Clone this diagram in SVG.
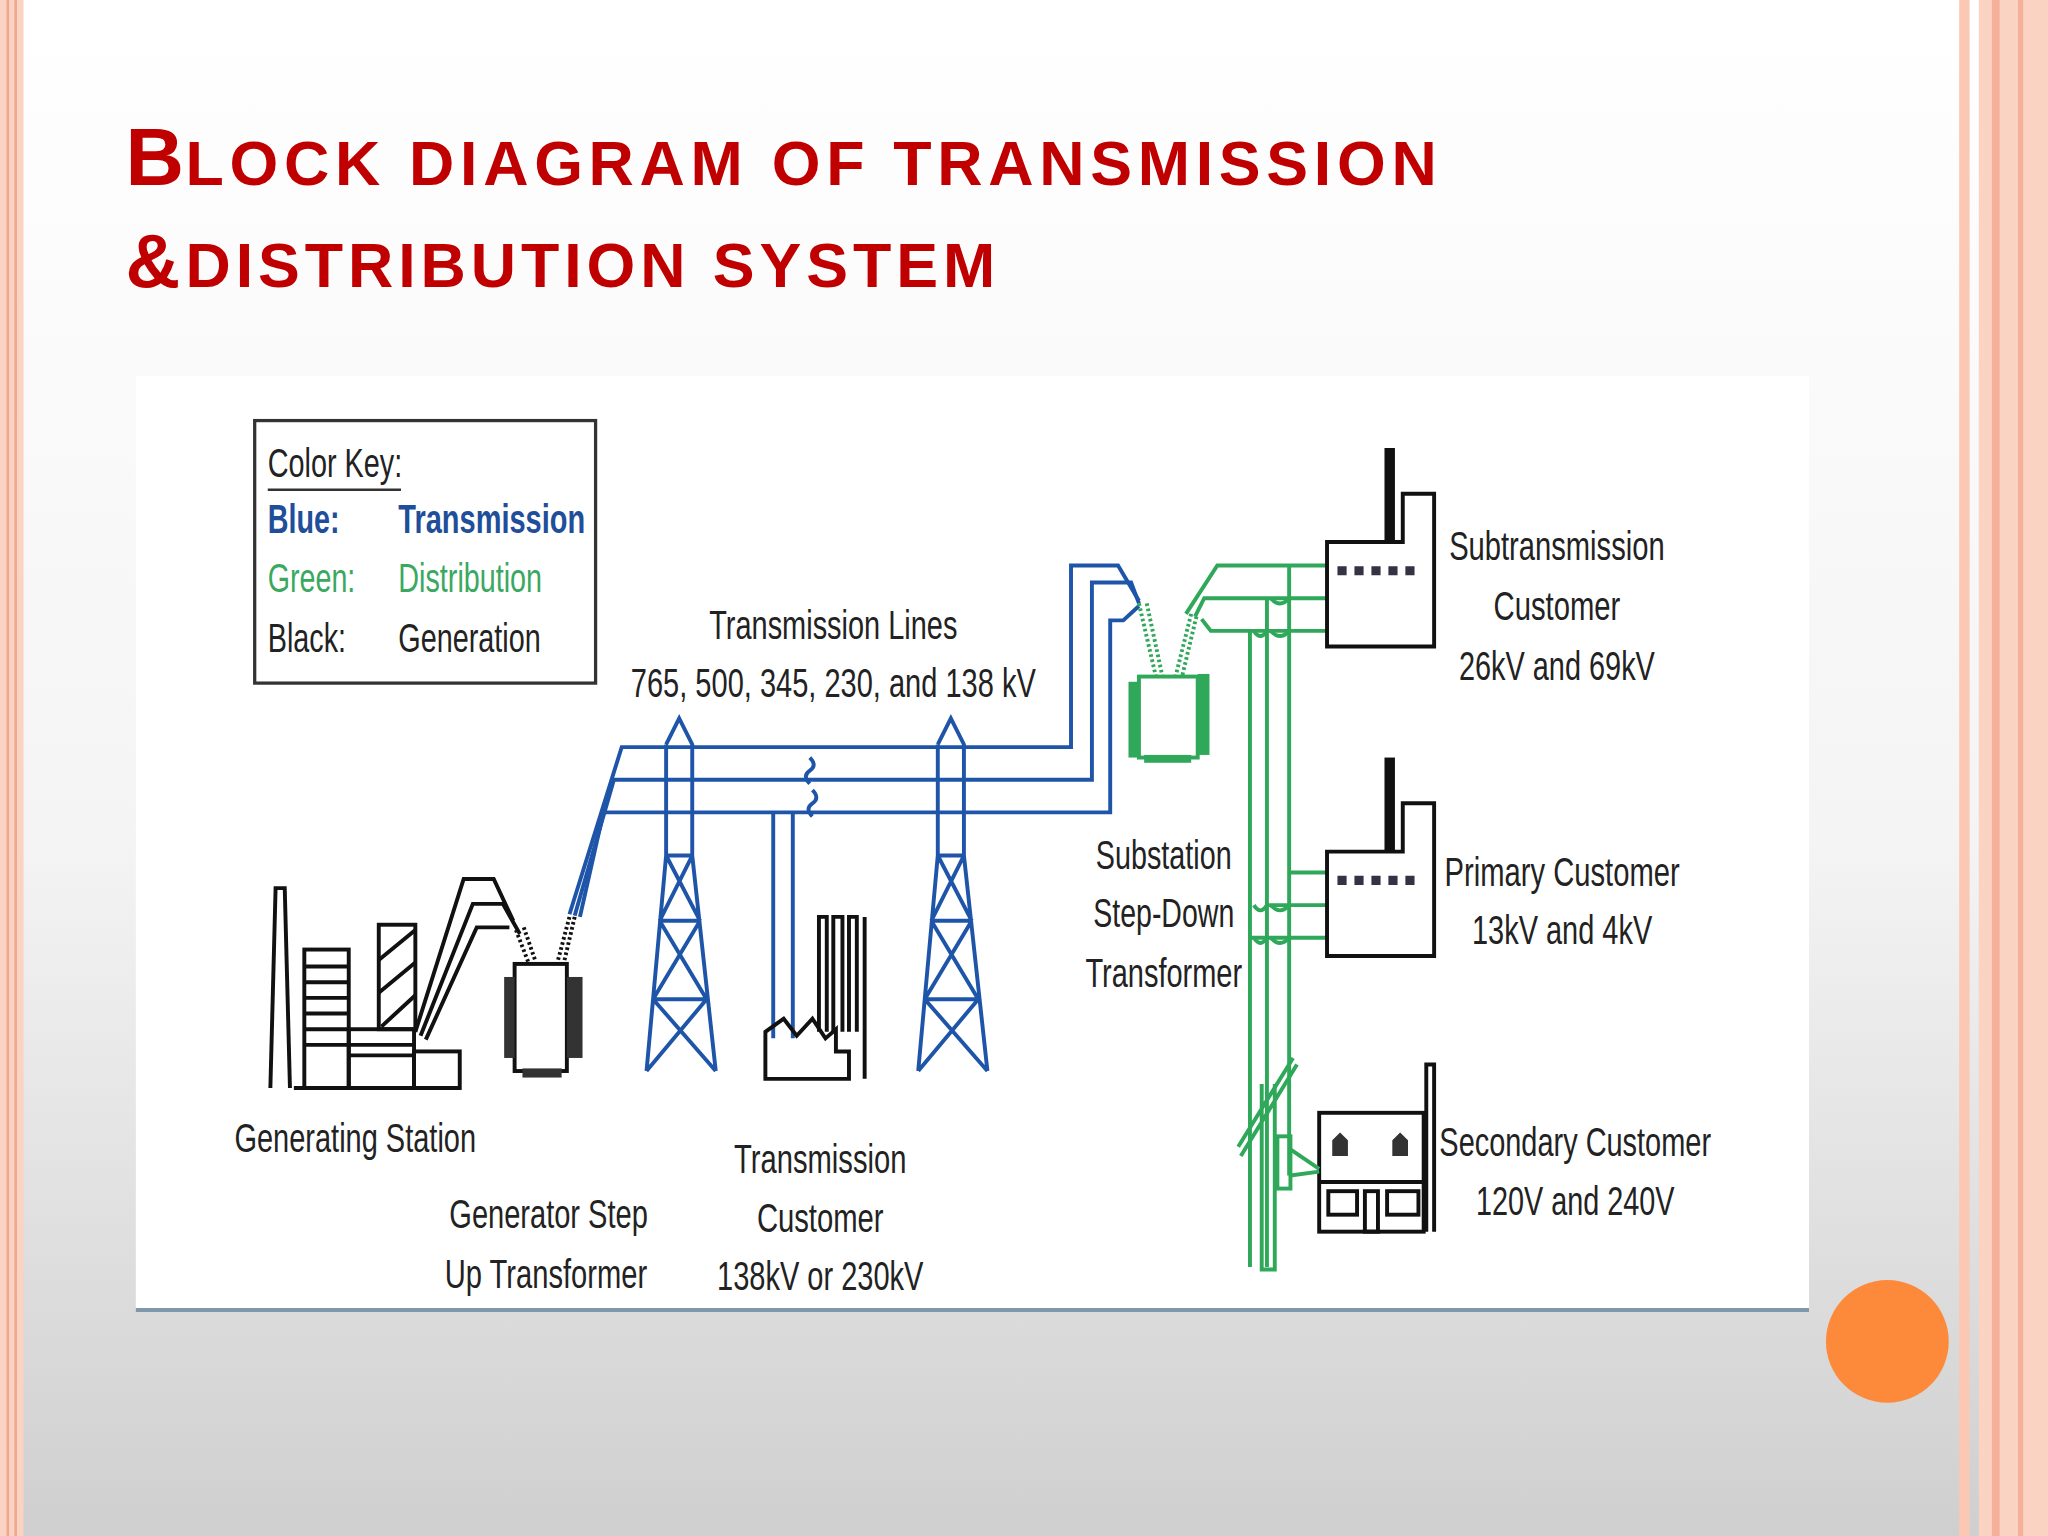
<svg xmlns="http://www.w3.org/2000/svg" width="2048" height="1536" viewBox="0 0 2048 1536">
<defs>
<linearGradient id="bg" x1="0" y1="0" x2="0" y2="1"><stop offset="0" stop-color="#ffffff"/><stop offset="0.55" stop-color="#f4f4f4"/><stop offset="1" stop-color="#cfcfcf"/></linearGradient>
<style>
.t{font-family:"Liberation Sans",Arial,sans-serif;font-size:31px;fill:#222}
.c{text-anchor:middle}
.ttl{font-family:"Liberation Sans",Arial,sans-serif;font-weight:bold;fill:#c00000}
.b{fill:none;stroke:#1f55a8;stroke-width:3}
.g{fill:none;stroke:#2fa85a;stroke-width:3}
.k{fill:none;stroke:#111;stroke-width:3}
</style>
</defs>
<g transform="scale(1.30612)">
<rect width="1568" height="1176" fill="url(#bg)"/>
<rect x="0" y="0" width="18" height="1176" fill="#fbd3c3"/>
<line x1="6" y1="0" x2="6" y2="1176" stroke="#f0a890" stroke-width="2"/>
<line x1="12" y1="0" x2="12" y2="1176" stroke="#f0a890" stroke-width="2"/>
<rect x="1500" y="0" width="8" height="1176" fill="#fbc8b3"/>
<rect x="1515" y="0" width="53" height="1176" fill="#fbd3c3"/>
<rect x="1525" y="0" width="6" height="1176" fill="#f5b09a"/>
<rect x="1545" y="0" width="4" height="1176" fill="#f5b09a"/>
<g id="title">
<text class="ttl" x="96" y="142"><tspan font-size="62">B</tspan><tspan font-size="48" x="142" textLength="958" lengthAdjust="spacing">LOCK  DIAGRAM  OF TRANSMISSION</tspan></text>
<text class="ttl" x="96" y="220"><tspan font-size="58">&amp;</tspan><tspan font-size="48" x="142" textLength="620" lengthAdjust="spacing">DISTRIBUTION  SYSTEM</tspan></text>
</g>
<rect x="104" y="288" width="1281" height="715" fill="#ffffff"/>
<line x1="104" y1="1003" x2="1385" y2="1003" stroke="#7f97aa" stroke-width="3"/>
<circle cx="1445" cy="1027" r="47" fill="#fd8a3a"/>

<g id="key">
<rect x="195" y="322" width="261" height="201" fill="none" stroke="#333" stroke-width="2.5"/>
<text class="t" x="205" y="365" textLength="103" lengthAdjust="spacingAndGlyphs">Color Key:</text>
<line x1="205" y1="375" x2="307" y2="375" stroke="#333" stroke-width="2"/>
<text class="t" x="205" y="408" style="fill:#1f4e9a;font-weight:bold" textLength="55" lengthAdjust="spacingAndGlyphs">Blue:</text>
<text class="t" x="305" y="408" style="fill:#1f4e9a;font-weight:bold" textLength="143" lengthAdjust="spacingAndGlyphs">Transmission</text>
<text class="t" x="205" y="453" style="fill:#3aa860" textLength="67" lengthAdjust="spacingAndGlyphs">Green:</text>
<text class="t" x="305" y="453" style="fill:#3aa860" textLength="110" lengthAdjust="spacingAndGlyphs">Distribution</text>
<text class="t" x="205" y="499" textLength="60" lengthAdjust="spacingAndGlyphs">Black:</text>
<text class="t" x="305" y="499" textLength="109" lengthAdjust="spacingAndGlyphs">Generation</text>
</g>

<g id="labels">
<text class="t c" x="638" y="489" textLength="190" lengthAdjust="spacingAndGlyphs">Transmission Lines</text>
<text class="t c" x="638" y="534" textLength="310" lengthAdjust="spacingAndGlyphs">765, 500, 345, 230, and 138 kV</text>
<text class="t c" x="891" y="665" textLength="104" lengthAdjust="spacingAndGlyphs">Substation</text>
<text class="t c" x="891" y="710" textLength="108" lengthAdjust="spacingAndGlyphs">Step-Down</text>
<text class="t c" x="891" y="756" textLength="120" lengthAdjust="spacingAndGlyphs">Transformer</text>
<text class="t c" x="1192" y="429" textLength="165" lengthAdjust="spacingAndGlyphs">Subtransmission</text>
<text class="t c" x="1192" y="475" textLength="97" lengthAdjust="spacingAndGlyphs">Customer</text>
<text class="t c" x="1192" y="521" textLength="150" lengthAdjust="spacingAndGlyphs">26kV and 69kV</text>
<text class="t c" x="1196" y="678" textLength="180" lengthAdjust="spacingAndGlyphs">Primary Customer</text>
<text class="t c" x="1196" y="723" textLength="138" lengthAdjust="spacingAndGlyphs">13kV and 4kV</text>
<text class="t c" x="1206" y="885" textLength="208" lengthAdjust="spacingAndGlyphs">Secondary Customer</text>
<text class="t c" x="1206" y="930" textLength="152" lengthAdjust="spacingAndGlyphs">120V and 240V</text>
<text class="t c" x="272" y="882" textLength="185" lengthAdjust="spacingAndGlyphs">Generating Station</text>
<text class="t c" x="420" y="940" textLength="152" lengthAdjust="spacingAndGlyphs">Generator Step</text>
<text class="t c" x="418" y="986" textLength="155" lengthAdjust="spacingAndGlyphs">Up Transformer</text>
<text class="t c" x="628" y="898" textLength="132" lengthAdjust="spacingAndGlyphs">Transmission</text>
<text class="t c" x="628" y="943" textLength="97" lengthAdjust="spacingAndGlyphs">Customer</text>
<text class="t c" x="628" y="988" textLength="158" lengthAdjust="spacingAndGlyphs">138kV or 230kV</text>
</g>

<g id="generating-station">
<path class="k" d="M207,833 L211,680 L218,680 L222,833"/>
<rect x="233" y="727" width="34" height="106" class="k"/>
<path class="k" d="M233,740 H267 M233,752 H267 M233,764 H267 M233,776 H267 M233,788 H267 M233,800 H267"/>
<rect x="290" y="708" width="28" height="80" class="k"/>
<path class="k" d="M290,735 L318,712 M290,760 L318,737 M292,786 L318,762"/>
<rect x="267" y="788" width="50" height="45" class="k"/>
<path class="k" d="M267,800 H317 M267,808 H317"/>
<rect x="317" y="805" width="35" height="28" class="k"/>
<path class="k" d="M225,833 H352"/>
<path class="k" d="M318,790 L355,673 L378,673 L393,705 M322,793 L362,692 L385,692 L398,715 M326,796 L365,710 L390,710"/>
</g>
<g id="stepup-transformer">
<rect x="394" y="738" width="40" height="82" class="k"/>
<rect x="386" y="748" width="8" height="62" fill="#333"/>
<rect x="434" y="748" width="12" height="62" fill="#333"/>
<rect x="400" y="818" width="30" height="7" fill="#333"/>
<path class="k" d="M395,712 L405,738 M401,710 L410,736 M440,702 L432,736 M436,702 L427,736" stroke-dasharray="2 2"/>
</g>

<g id="connectors">
<path class="b" d="M436,700 L476,572 H820 V433 H856 L872,460"/>
<path class="b" d="M440,701 L470,597 H836 V446 H866 L872,462"/>
<path class="b" d="M444,702 L462,622 H850 V475 H860 L872,464"/>
<path class="b" d="M592,622 V795 M607,622 V795"/>
<path class="b" d="M620,580 q6,6 0,10 q-6,4 0,10 M622,605 q6,6 0,10 q-6,4 0,10"/>
<path class="g" d="M908,470 L932,433 H1016 M915,472 L922,458 H1016 M920,474 L927,483 H1016"/>
<path class="g" d="M957,483 V970 M970,458 V970 M987,433 V900"/>
<path class="g" d="M987,668 H1016 M970,693 H1016 M957,718 H1016"/>
<path class="g" d="M960,483 q5,8 10,0 M973,483 q7,8 14,0 M973,458 q7,8 14,0 M960,693 q5,8 10,0 M973,693 q7,8 14,0 M960,718 q5,8 10,0 M973,718 q7,8 14,0"/>
</g>

<g id="tower1">
<path class="b" d="M510,570 L520,550 L530,570 V655 M510,570 V655 L495,820 M530,655 L548,820 M510,655 H530 M505,705 H536 M500,765 H541 M510,655 L536,705 M530,655 L505,705 M505,705 L541,765 M536,705 L500,765 M500,765 L548,820 M541,765 L495,820"/>
</g>
<g id="tower2">
<path class="b" d="M718,570 L728,550 L738,570 V655 M718,570 V655 L703,820 M738,655 L756,820 M718,655 H738 M713,705 H744 M708,765 H749 M718,655 L744,705 M738,655 L713,705 M713,705 L749,765 M744,705 L708,765 M708,765 L756,820 M749,765 L703,820"/>
</g>
<g id="transmission-customer">
<path class="k" d="M586,826 V790 L600,780 L610,793 L622,780 L632,795 L640,788 V805 H650 V826 Z"/>
<path class="k" d="M627,790 V702 H633 V790 M638,790 V702 H645 V790 M650,790 V702 H656 V790 M662,826 V702"/>
</g>
<g id="substation-transformer">
<rect x="872" y="518" width="45" height="62" class="g"/>
<rect x="864" y="522" width="8" height="58" fill="#2fa85a"/>
<rect x="917" y="516" width="9" height="62" fill="#2fa85a"/>
<rect x="876" y="578" width="36" height="6" fill="#2fa85a"/>
<path class="g" d="M872,462 L885,518 M878,462 L890,518 M912,470 L900,518 M916,472 L905,518" stroke-dasharray="2 2"/>
</g>
<g id="subtransmission-customer">
<path class="k" d="M1016,415 V495 H1098 V378 H1074 V415 Z" fill="#fff"/>
<rect x="1060" y="343" width="8" height="72" fill="#111"/>
<path d="M1024,437 h7 M1037,437 h7 M1050,437 h7 M1063,437 h7 M1076,437 h7" stroke="#334" stroke-width="7"/>
</g>
<g id="primary-customer">
<path class="k" d="M1016,652 V732 H1098 V615 H1074 V652 Z" fill="#fff"/>
<rect x="1060" y="580" width="8" height="72" fill="#111"/>
<path d="M1024,674 h7 M1037,674 h7 M1050,674 h7 M1063,674 h7 M1076,674 h7" stroke="#334" stroke-width="7"/>
</g>
<g id="secondary-customer">
<rect x="1010" y="852" width="80" height="91" class="k"/>
<path class="k" d="M1010,905 H1090 M1092,943 V815 H1098 V943"/>
<rect x="1017" y="912" width="22" height="18" class="k"/>
<rect x="1062" y="912" width="24" height="18" class="k"/>
<rect x="1045" y="912" width="10" height="31" class="k"/>
<path d="M1020,885 v-12 l6,-6 l6,6 v12 z M1066,885 v-12 l6,-6 l6,6 v12 z" fill="#333"/>
</g>
<g id="pole">
<path class="g" d="M966,830 V972 H976 V830 M950,885 L993,815 M948,878 L990,810"/>
<rect x="978" y="870" width="10" height="40" class="g"/>
<path class="g" d="M988,880 L1010,895 M988,900 L1010,897"/>
</g>
</g>
</svg>
